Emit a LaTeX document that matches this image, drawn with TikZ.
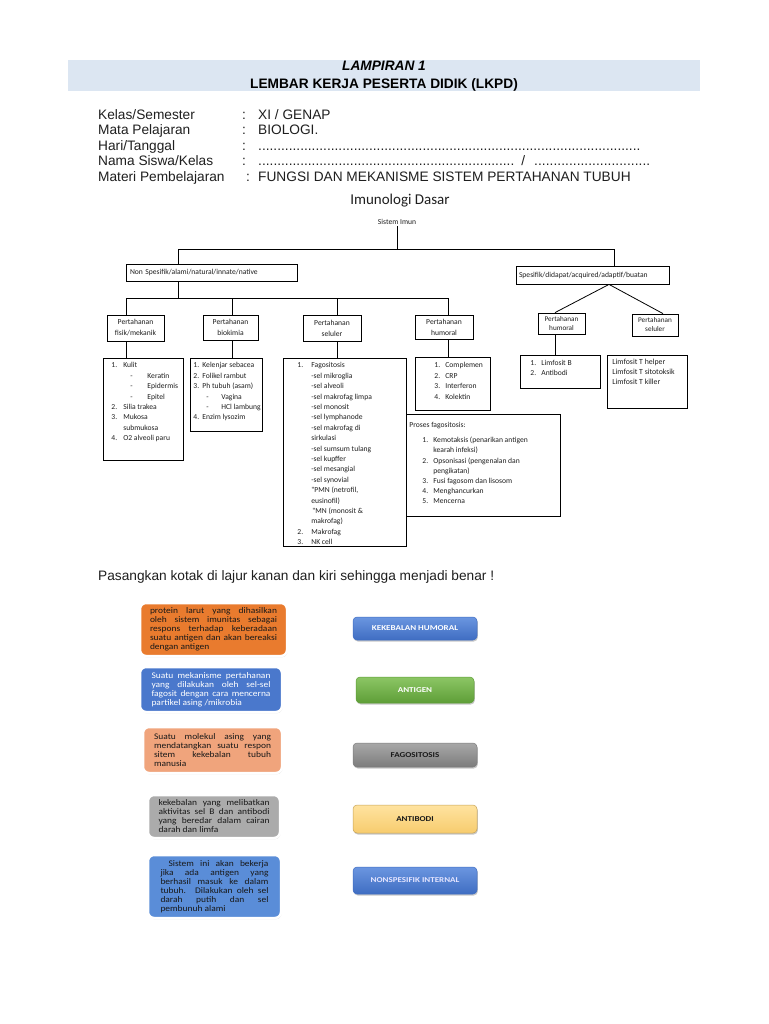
\documentclass[tikz,border=0pt]{standalone}
\usepackage{fontspec}
\setmainfont{Liberation Sans}
\newfontfamily\calx{Carlito}
\newfontfamily\calw[FakeStretch=1.1]{Carlito}
\newfontfamily\calr[FakeStretch=1.2]{Carlito}
\usetikzlibrary{shadows}
\definecolor{band}{HTML}{DCE6F2}
\definecolor{orng}{HTML}{E97B2E}
\definecolor{blu}{HTML}{4A78CC}
\definecolor{salm}{HTML}{F0A47C}
\definecolor{gry}{HTML}{ABABAB}
\definecolor{bluf}{HTML}{5A8DD8}
\definecolor{bltop}{HTML}{6B96E0}
\definecolor{blbot}{HTML}{3F6DC2}
\definecolor{grtop}{HTML}{8CC665}
\definecolor{grbot}{HTML}{5E9E37}
\definecolor{gytop}{HTML}{A8A8A8}
\definecolor{gybot}{HTML}{7C7C7C}
\definecolor{yltop}{HTML}{FFE3A0}
\definecolor{ylbot}{HTML}{F7CC6E}
\newcommand{\jl}[2]{\makebox[#1][s]{#2}}
\newcommand{\tb}[3]{\parbox[c][#2][t]{#1}{\raggedright\hfuzz=20pt #3}}
\newcommand{\li}[3]{\hspace*{#1}\makebox[#2][l]{#3}}
\newcommand{\dotrun}[1]{\hbox to #1{\xleaders\hbox{.}\hfill}}
\begin{document}
\begin{tikzpicture}[x=1pt,y=-1pt,
  form/.style={anchor=base west, inner sep=0, font=\fontsize{13.7}{16}\selectfont, text=black!88},
  tx/.style={font=\calx\fontsize{7.6}{11}\selectfont, text=black!88},
  tbox/.style={draw, line width=0.8pt, tx, align=center, inner sep=0},
  lbox/.style={draw, line width=0.8pt, tx, inner sep=0, anchor=north west},
  tl/.style={line width=0.8pt},
  lb/.style={rounded corners=6pt, draw=white, line width=2.5pt, inner sep=0,
    drop shadow={shadow xshift=0.6pt, shadow yshift=-1.2pt, opacity=0.35, fill=black!60},
    font=\calw\fontsize{8.6}{9}\selectfont},
  rb/.style={rounded corners=4pt, line width=0.5pt, inner sep=0, minimum width=124,
    drop shadow={shadow xshift=0.8pt, shadow yshift=-1.5pt, opacity=0.3, fill=black!70},
    font=\calr\bfseries\fontsize{7.5}{9}\selectfont}]
\useasboundingbox (0,0) rectangle (768,1024);
\fill[white] (0,0) rectangle (768,1024);

% header
\node[fill=band, inner sep=0, minimum width=632, minimum height=31, anchor=north west] (band) at (68,60) {};
\node[anchor=base, inner sep=0, font=\fontsize{13.7}{16}\selectfont\bfseries\itshape] (lamp) at (384,71) {LAMPIRAN 1};
\node[anchor=base, inner sep=0, font=\fontsize{13.7}{16}\selectfont\bfseries] (lkpd) at (384,88.5) {LEMBAR KERJA PESERTA DIDIK (LKPD)};

% form
\node[form] (k1) at (98,119.5) {Kelas/Semester};
\node[form] (c1) at (242,119.5) {:};
\node[form] (v1) at (258,119.5) {XI / GENAP};
\node[form] (k2) at (98,135) {Mata Pelajaran};
\node[form] (c2) at (242,135) {:};
\node[form] (v2) at (258,135) {BIOLOGI.};
\node[form] (k3) at (98,150.5) {Hari/Tanggal};
\node[form] (c3) at (242,150.5) {:};
\node[form] (v3) at (258,150.5) {\dotrun{382pt}};
\node[form] (k4) at (98,166) {Nama Siswa/Kelas};
\node[form] (c4) at (242,166) {:};
\node[form] (v4) at (258,166) {\dotrun{256pt}\hspace{7pt}/\hspace{9pt}\dotrun{116pt}};
\node[form] (k5) at (98,181.5) {Materi Pembelajaran};
\node[form] (c5) at (246,181.5) {:};
\node[form] (v5) at (258,181.5) {FUNGSI DAN MEKANISME SISTEM PERTAHANAN TUBUH};

% tree
\node[anchor=base, inner sep=0, font=\calx\fontsize{15}{18}\selectfont, text=black!88] (title) at (400,205) {Imunologi Dasar};
\node[tx, inner sep=1pt] (SI) at (397,222) {Sistem Imun};
\coordinate (jL) at (178,249);
\coordinate (jR) at (614,249);
\node[tbox, align=left, text width=163, minimum width=171, minimum height=17] (NS) at (211.5,272.5) {Non Spesifik/alami/natural/innate/native};
\node[tbox, align=left, text width=147, minimum width=153, minimum height=18] (SP) at (592.5,275) {Spesifik/didapat/acquired/adaptif/buatan};

\node[tbox, minimum width=57, minimum height=26] (B1) at (135.5,328) {Pertahanan\\fisik/mekanik};
\node[tbox, minimum width=55, minimum height=25] (B2) at (230.5,327.5) {Pertahanan\\biokimia};
\node[tbox, minimum width=58, minimum height=26] (B3) at (332,328) {Pertahanan\\seluler};
\node[tbox, minimum width=58, minimum height=24] (B4) at (444,327) {Pertahanan\\humoral};
\node[tbox, font=\calx\fontsize{7.2}{9}\selectfont, minimum width=47, minimum height=21] (SH) at (561.5,323.5) {Pertahanan\\humoral};
\node[tbox, font=\calx\fontsize{7.2}{9}\selectfont, minimum width=46, minimum height=22] (SS) at (655,325) {Pertahanan\\seluler};

\node[lbox] (L1) at (103,358) {\tb{80pt}{102pt}{\fontsize{7.6}{10.4}\selectfont
\rule{0pt}{9.5pt}\li{8pt}{12pt}{1.}Kulit\\
\li{27pt}{17pt}{-}Keratin\\
\li{27pt}{17pt}{-}Epidermis\\
\li{27pt}{17pt}{-}Epitel\\
\li{8pt}{12pt}{2.}Silia trakea\\
\li{8pt}{12pt}{3.}Mukosa\\
\hspace*{20pt}submukosa\\
\li{8pt}{12pt}{4.}O2 alveoli paru}};

\node[lbox] (L2) at (190,358) {\tb{72pt}{73pt}{\fontsize{7.6}{10.4}\selectfont
\rule{0pt}{9.5pt}\li{3pt}{9pt}{1.}Kelenjar sebacea\\
\li{3pt}{9pt}{2.}Folikel rambut\\
\li{3pt}{9pt}{3.}Ph tubuh (asam)\\
\li{16pt}{15pt}{-}Vagina\\
\li{16pt}{15pt}{-}HCl lambung\\
\li{3pt}{9pt}{4.}Enzim lysozim}};

\node[lbox] (L3) at (283,358) {\tb{123pt}{188pt}{\fontsize{7.6}{10.4}\selectfont
\rule{0pt}{9.5pt}\li{14pt}{14pt}{1.}Fagositosis\\
\hspace*{28pt}-sel mikroglia\\
\hspace*{28pt}-sel alveoli\\
\hspace*{28pt}-sel makrofag limpa\\
\hspace*{28pt}-sel monosit\\
\hspace*{28pt}-sel lymphanode\\
\hspace*{28pt}-sel makrofag di\\
\hspace*{28pt}sirkulasi\\
\hspace*{28pt}-sel sumsum tulang\\
\hspace*{28pt}-sel kupffer\\
\hspace*{28pt}-sel mesangial\\
\hspace*{28pt}-sel synovial\\
\hspace*{28pt}"PMN (netrofil,\\
\hspace*{28pt}eusinofil)\\
\hspace*{29pt}"MN (monosit \&\\
\hspace*{28pt}makrofag)\\
\li{14pt}{14pt}{2.}Makrofag\\
\li{14pt}{14pt}{3.}NK cell}};

\node[lbox] (L4) at (415,357) {\tb{75pt}{53pt}{\fontsize{7.6}{10.4}\selectfont
\rule{0pt}{10.5pt}\li{19pt}{11pt}{1.}Complemen\\
\li{19pt}{11pt}{2.}CRP\\
\li{19pt}{11pt}{3.}Interferon\\
\li{19pt}{11pt}{4.}Kolektin}};

\node[lbox] (P) at (406,414) {\tb{154pt}{102pt}{\fontsize{7.6}{10.2}\selectfont
\rule{0pt}{13.5pt}\hspace*{3pt}Proses fagositosis:\\[4.6pt]
\li{16pt}{11pt}{1.}Kemotaksis (penarikan antigen\\
\hspace*{27pt}kearah infeksi)\\
\li{16pt}{11pt}{2.}Opsonisasi (pengenalan dan\\
\hspace*{27pt}pengikatan)\\
\li{16pt}{11pt}{3.}Fusi fagosom dan lisosom\\
\li{16pt}{11pt}{4.}Menghancurkan\\
\li{16pt}{11pt}{5.}Mencerna}};

\node[lbox] (SHL) at (520,355) {\tb{80pt}{33pt}{\fontsize{7.6}{10}\selectfont
\rule{0pt}{10.5pt}\li{10pt}{11pt}{1.}Limfosit B\\
\li{10pt}{11pt}{2.}Antibodi}};

\node[lbox] (SSL) at (607,355) {\tb{80pt}{53pt}{\fontsize{7.8}{10}\selectfont
\rule{0pt}{9.5pt}\hspace*{5pt}Limfosit T helper\\
\hspace*{5pt}Limfosit T sitotoksik\\
\hspace*{5pt}Limfosit T killer}};

% connectors
\draw[tl] (SI.south) -- (SI.south |- jL);
\draw[tl] (NS.north -| jL) -- (jL) -- (jR) -- (jR |- SP.north);
\coordinate (h1) at (126,298);
\coordinate (h2) at (232,298);
\coordinate (h3) at (337,298);
\coordinate (h4) at (448,298);
\draw[tl] (NS.south -| jL) -- (jL |- h1);
\draw[tl] (h1 |- B1.north) -- (h1) -- (h4) -- (h4 |- B4.north);
\draw[tl] (h2) -- (h2 |- B2.north);
\draw[tl] (h3) -- (h3 |- B3.north);
\draw[tl] (h1 |- B1.south) -- (h1 |- L1.north);
\draw[tl] (h2 |- B2.south) -- (h2 |- L2.north);
\draw[tl] (h3 |- B3.south) -- (h3 |- L3.north);
\draw[tl] (h4 |- B4.south) -- (h4 |- L4.north);
\draw[tl] ([xshift=16.5pt]SP.south) -- ([xshift=-6.5pt]SH.north);
\draw[tl] ([xshift=16.5pt]SP.south) -- ([xshift=8pt]SS.north);
\draw[tl] ([xshift=-6.5pt]SH.south) -- ([xshift=-6.5pt]SH.south |- SHL.north);

% instruction
\node[form] (inst) at (98,580) {Pasangkan kotak di lajur kanan dan kiri sehingga menjadi benar !};

% left boxes
\node[lb, fill=orng, minimum width=147, minimum height=53, text=black!90] (O1) at (213.5,629.5) {\parbox{127pt}{%
\jl{127pt}{protein larut yang dihasilkan}\\
\jl{127pt}{oleh sistem imunitas sebagai}\\
\jl{127pt}{respons terhadap keberadaan}\\
\jl{127pt}{suatu antigen dan akan bereaksi}\\
dengan antigen}};

\node[lb, fill=blu, minimum width=142, minimum height=45, text=white] (O2) at (211,689.5) {\parbox{119pt}{%
\jl{119pt}{Suatu mekanisme pertahanan}\\
\jl{119pt}{yang dilakukan oleh sel-sel}\\
\jl{119pt}{fagosit dengan cara mencerna}\\
partikel asing /mikrobia}};

\node[lb, fill=salm, minimum width=139, minimum height=46, text=black!90] (O3) at (212.5,750) {\parbox{117pt}{%
\jl{117pt}{Suatu molekul asing yang}\\
\jl{117pt}{mendatangkan suatu respon}\\
\jl{117pt}{sitem kekebalan tubuh}\\
manusia}};

\node[lb, fill=gry, minimum width=132, minimum height=43, text=black!90] (O4) at (214,816.5) {\parbox{111pt}{%
\jl{111pt}{kekebalan yang melibatkan}\\
\jl{111pt}{aktivitas sel B dan antibodi}\\
\jl{111pt}{yang beredar dalam cairan}\\
darah dan limfa}};

\node[lb, fill=bluf, minimum width=133, minimum height=63, text=black!90] (O5) at (214.5,886.5) {\parbox{108pt}{%
\hspace*{8pt}\jl{100pt}{Sistem ini akan bekerja}\\
\jl{108pt}{jika ada antigen yang}\\
\jl{108pt}{berhasil masuk ke dalam}\\
\jl{108pt}{tubuh. Dilakukan oleh sel}\\
\jl{108pt}{darah putih dan sel}\\
pembunuh alami}};

% right boxes
\node[rb, draw=blbot, top color=bltop, bottom color=blbot, minimum height=23, text=white] (R1) at (415,628.5) {KEKEBALAN HUMORAL};
\node[rb, draw=grbot, top color=grtop, bottom color=grbot, minimum width=118, minimum height=26, text=white] (R2) at (415,690) {ANTIGEN};
\node[rb, draw=gybot, top color=gytop, bottom color=gybot, minimum height=24, text=black!90] (R3) at (415,755) {FAGOSITOSIS};
\node[rb, draw=ylbot!80!black, top color=yltop, bottom color=ylbot, minimum height=28, text=black!90] (R4) at (415,819) {ANTIBODI};
\node[rb, draw=blbot, top color=bltop, bottom color=blbot, minimum height=27, text=blue!10!white] (R5) at (415,880.5) {NONSPESIFIK INTERNAL};
\end{tikzpicture}
\end{document}
